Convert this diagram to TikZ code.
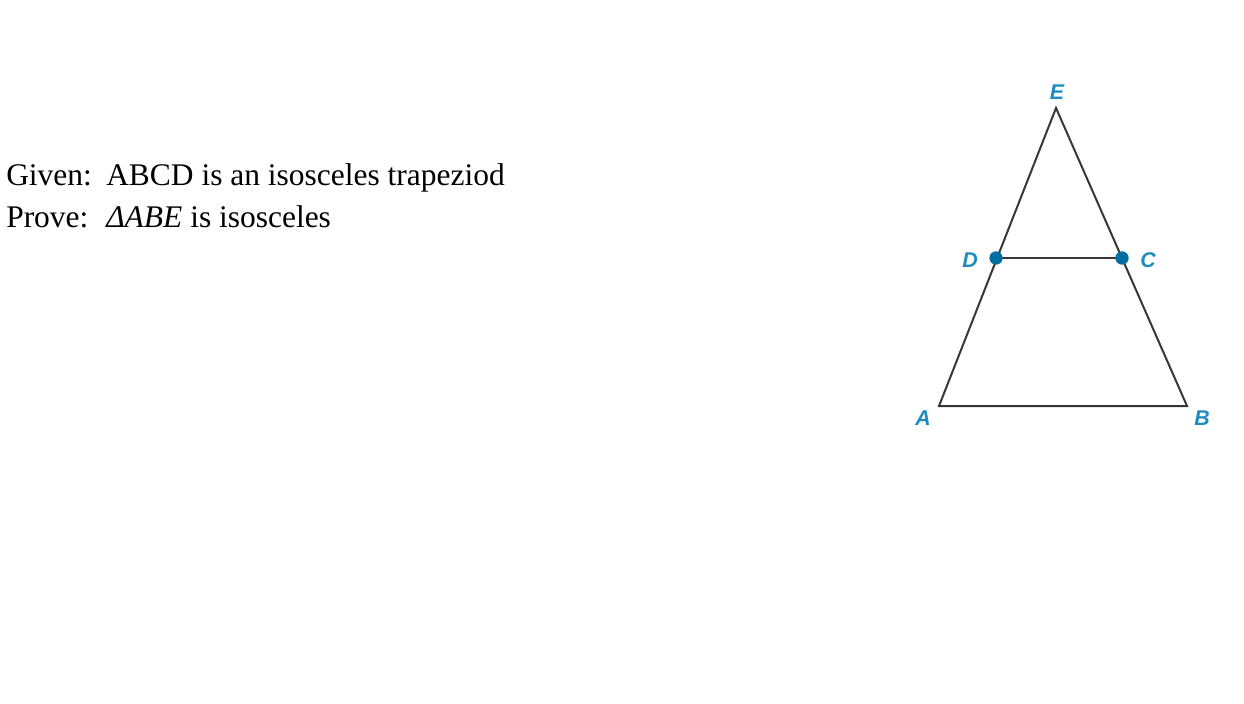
\documentclass[tikz,border=0pt]{standalone}
\usepackage{fontspec}
\setmainfont{Liberation Serif}
\newfontfamily\lblfont{Liberation Sans}
\definecolor{lblblue}{RGB}{30,140,190}
\definecolor{dotblue}{RGB}{0,110,160}
\definecolor{edge}{RGB}{55,55,55}
\begin{document}
\begin{tikzpicture}[x=0.75pt,y=-0.75pt,
  seg/.style={draw=edge,line width=1.5pt},
  vlabel/.style={text=lblblue,font=\lblfont\bfseries\itshape\fontsize{16}{19}\selectfont,inner sep=0pt},
  txt/.style={anchor=base west,font=\fontsize{23.6}{28}\selectfont,inner sep=0pt},
  dotn/.style={circle,fill=dotblue,inner sep=0pt,minimum size=10pt}]
\useasboundingbox (0,0) rectangle (1244,703);
\coordinate (E) at (1056,108);
\coordinate (A) at (939,406);
\coordinate (B) at (1187,406);
\coordinate (D) at (996,258);
\coordinate (C) at (1122,258);
\draw[seg,line join=miter] (A) -- (E) -- (B) -- cycle;
\draw[seg] (D) -- (C);
\node[dotn] (dD) at (D) {};
\node[dotn] (dC) at (C) {};
\node[vlabel] (lE) at (1057,92) {E};
\node[vlabel] (lD) at (970,260) {D};
\node[vlabel] (lC) at (1148,260) {C};
\node[vlabel] (lA) at (923,418) {A};
\node[vlabel] (lB) at (1202,418) {B};
\node[txt] (g1) at (6,185) {Given:};
\node[txt] (g2) at (106,185) {ABCD is an isosceles trapeziod};
\node[txt] (p1) at (6,227) {Prove:};
\node[txt] (p2) at (106,227) {\textit{ΔABE} is isosceles};
\end{tikzpicture}
\end{document}
